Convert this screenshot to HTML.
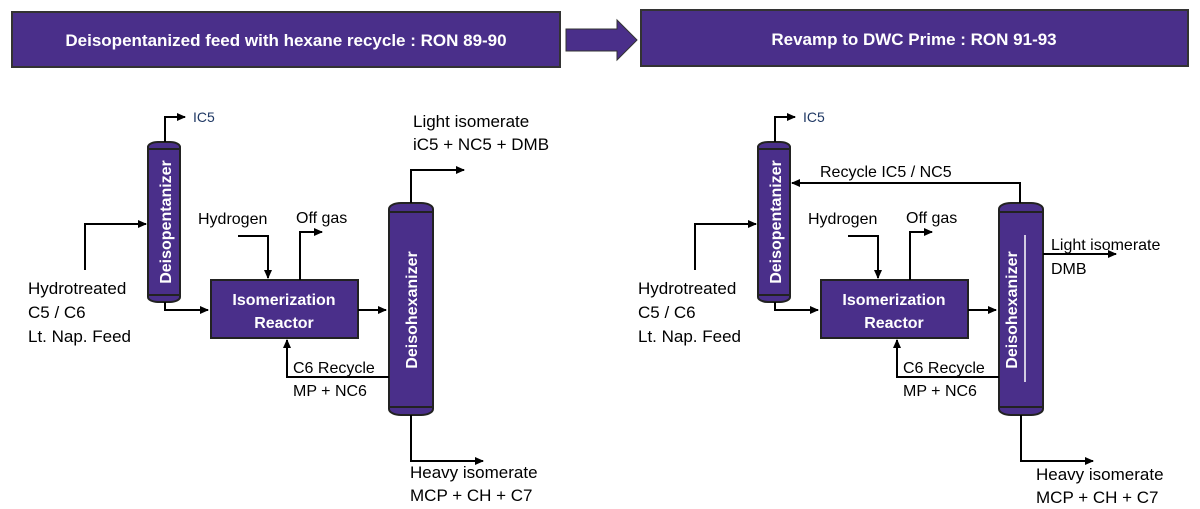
<!DOCTYPE html>
<html><head><meta charset="utf-8"><style>
html,body{margin:0;padding:0;background:#fff;width:1200px;height:509px;overflow:hidden}
svg text{font-family:"Liberation Sans",sans-serif}
</style></head><body>
<svg width="1200" height="509" viewBox="0 0 1200 509" xmlns="http://www.w3.org/2000/svg">
<defs>
<marker id="a" markerWidth="10" markerHeight="10" refX="8" refY="4" orient="auto" markerUnits="userSpaceOnUse">
<path d="M0,0 L9,4 L0,8 Z" fill="#000"/></marker>
<g id="panel">
  <rect x="148" y="142" width="32" height="160" rx="10" ry="5" fill="#4a2f8a" stroke="#222" stroke-width="2"/>
  <line x1="148" y1="149" x2="180" y2="149" stroke="#222" stroke-width="2"/>
  <line x1="148" y1="295" x2="180" y2="295" stroke="#222" stroke-width="2"/>
  <text transform="translate(171,222) rotate(-90)" text-anchor="middle" fill="#fff" font-size="16" font-weight="bold">Deisopentanizer</text>
  <polyline points="165,142 165,117 185,117" fill="none" stroke="#000" stroke-width="2" marker-end="url(#a)"/>
  <text x="193" y="122" fill="#1f3864" font-size="14">IC5</text>
  <polyline points="85,270 85,224 146,224" fill="none" stroke="#000" stroke-width="2" marker-end="url(#a)"/>
  <text font-size="17" fill="#000"><tspan x="28" y="294">Hydrotreated</tspan><tspan x="28" y="318">C5 / C6</tspan><tspan x="28" y="342">Lt. Nap. Feed</tspan></text>
  <polyline points="165,302 165,310 208,310" fill="none" stroke="#000" stroke-width="2" marker-end="url(#a)"/>
  <rect x="211" y="280" width="147" height="58" fill="#4a2f8a" stroke="#222" stroke-width="2"/>
  <text x="284" y="305" text-anchor="middle" fill="#fff" font-size="16" font-weight="bold">Isomerization</text>
  <text x="284" y="328" text-anchor="middle" fill="#fff" font-size="16" font-weight="bold">Reactor</text>
  <text x="198" y="224" font-size="16">Hydrogen</text>
  <polyline points="238,236 268,236 268,278" fill="none" stroke="#000" stroke-width="2" marker-end="url(#a)"/>
  <polyline points="300,280 300,232 322,232" fill="none" stroke="#000" stroke-width="2" marker-end="url(#a)"/>
  <text x="296" y="223" font-size="16">Off gas</text>
  <polyline points="358,310 386,310" fill="none" stroke="#000" stroke-width="2" marker-end="url(#a)"/>
  <rect x="389" y="203" width="44" height="212" rx="12" ry="6" fill="#4a2f8a" stroke="#222" stroke-width="2"/>
  <line x1="389" y1="212" x2="433" y2="212" stroke="#222" stroke-width="2"/>
  <line x1="389" y1="407" x2="433" y2="407" stroke="#222" stroke-width="2"/>
  <polyline points="389,377 287,377 287,340" fill="none" stroke="#000" stroke-width="2" marker-end="url(#a)"/>
  <text font-size="16"><tspan x="293" y="373">C6 Recycle</tspan><tspan x="293" y="396">MP + NC6</tspan></text>
  <polyline points="411,415 411,461 483,461" fill="none" stroke="#000" stroke-width="2" marker-end="url(#a)"/>
</g>
</defs>
<rect x="12" y="12" width="548" height="55" fill="#4a2f8a" stroke="#333" stroke-width="2"/>
<text x="286" y="46" text-anchor="middle" fill="#fff" font-size="17" font-weight="bold">Deisopentanized feed with hexane recycle : RON 89-90</text>
<path d="M566,29 L617,29 L617,20 L637,40 L617,60 L617,51 L566,51 Z" fill="#4a2f8a" stroke="#333" stroke-width="1"/>
<rect x="641" y="10" width="547" height="56" fill="#4a2f8a" stroke="#333" stroke-width="2"/>
<text x="914" y="45" text-anchor="middle" fill="#fff" font-size="17" font-weight="bold">Revamp to DWC Prime : RON 91-93</text>

<use href="#panel"/>
<text transform="translate(417,310) rotate(-90)" text-anchor="middle" fill="#fff" font-size="16" font-weight="bold">Deisohexanizer</text>
<text x="413" y="127" font-size="17">Light isomerate</text>
<text x="413" y="150" font-size="17">iC5 + NC5 + DMB</text>
<polyline points="411,203 411,170 464,170" fill="none" stroke="#000" stroke-width="2" marker-end="url(#a)"/>
<text x="410" y="478" font-size="17">Heavy isomerate</text>
<text x="410" y="501" font-size="17">MCP + CH + C7</text>

<use href="#panel" transform="translate(610,0)"/>
<text transform="translate(1017,310) rotate(-90)" text-anchor="middle" fill="#fff" font-size="16" font-weight="bold">Deisohexanizer</text>
<line x1="1025" y1="235" x2="1025" y2="382" stroke="#fff" stroke-width="1.5"/>
<polyline points="1020,203 1020,183 792,183" fill="none" stroke="#000" stroke-width="2" marker-end="url(#a)"/>
<text x="820" y="177" font-size="16">Recycle IC5 / NC5</text>
<polyline points="1043,254 1116,254" fill="none" stroke="#000" stroke-width="2" marker-end="url(#a)"/>
<text x="1051" y="250" font-size="16">Light isomerate</text>
<text x="1051" y="274" font-size="16">DMB</text>
<text x="1036" y="480" font-size="17">Heavy isomerate</text>
<text x="1036" y="503" font-size="17">MCP + CH + C7</text>
</svg>
</body></html>
